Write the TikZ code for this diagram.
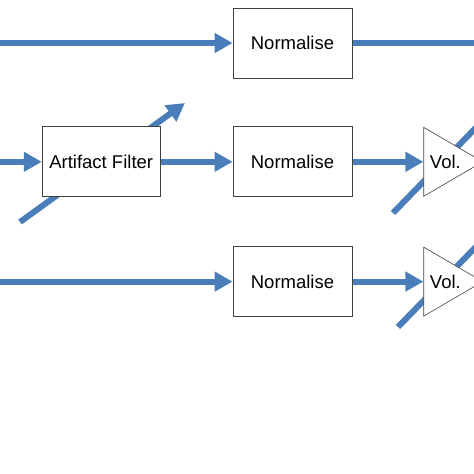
\documentclass[tikz,border=0pt]{standalone}
\usepackage{fontspec}
\setmainfont{Liberation Sans}
\usetikzlibrary{shapes.geometric,arrows.meta,positioning,backgrounds}
\definecolor{flowblue}{RGB}{74,126,187}
\definecolor{edgegray}{RGB}{64,64,64}
\tikzset{
  procbox/.style={rectangle, draw=edgegray, fill=white, line width=0.8pt,
                  minimum width=119pt, minimum height=70pt, inner sep=2pt,
                  font=\fontsize{18.5}{22}\selectfont},
  volamp/.style ={isosceles triangle, isosceles triangle stretches, draw=edgegray,
                  fill=white, line width=0.6pt, minimum width=69pt, minimum height=59pt,
                  inner xsep=4pt, inner ysep=1pt, font=\fontsize{18.5}{22}\selectfont},
  flow/.style   ={-{Triangle[length=18pt,width=19pt]}, line width=6pt, draw=flowblue},
  wire/.style   ={line width=6pt, line cap=round, draw=flowblue}
}
\begin{document}
\begin{tikzpicture}[x=1pt, y=-1pt]
\useasboundingbox (0,0) rectangle (474,474);
% ---- Processing rows ----
\node[procbox] (norma) at (292.5,43) {Normalise};
\node[procbox, below=48pt of norma] (normb) {Normalise};
\node[procbox, below=49pt of normb] (normc) {Normalise};
\node[procbox, left=72pt of normb, minimum width=118pt] (artf) {Artifact Filter};
\node[volamp, right=71pt of normb] (volb) {Vol.};
\node[volamp, right=71pt of normc] (volc) {Vol.};

% ---- Free ends ----
\coordinate (ina) at ([xshift=-250pt]norma.west);
\coordinate (outa) at ([xshift=140pt]norma.east);
\coordinate (inb) at ([xshift=-60pt]artf.west);
\coordinate (inc) at ([xshift=-250pt]normc.west);
\coordinate (artlo) at (20,222);
\coordinate (arthi) at (185,103);
\coordinate (volblo) at (393,213);
\coordinate (volbhi) at (530,72);
\coordinate (volclo) at (398,327);
\coordinate (volchi) at (535,186);

% ---- Edges ----
\begin{scope}[on background layer]
\draw[flow] (ina) -- (norma.west);
\draw[wire] (norma.east) -- (outa);
\draw[flow] (inb) -- (artf.west);
\draw[flow] (artf.east) -- (normb.west);
\draw[flow] (normb.east) -- (volb.west);
\draw[flow] (inc) -- (normc.west);
\draw[flow] (normc.east) -- (volc.west);
\draw[flow] (artlo) -- (arthi);
\draw[flow] (volblo) -- (volbhi);
\draw[flow] (volclo) -- (volchi);
\end{scope}
\end{tikzpicture}
\end{document}
